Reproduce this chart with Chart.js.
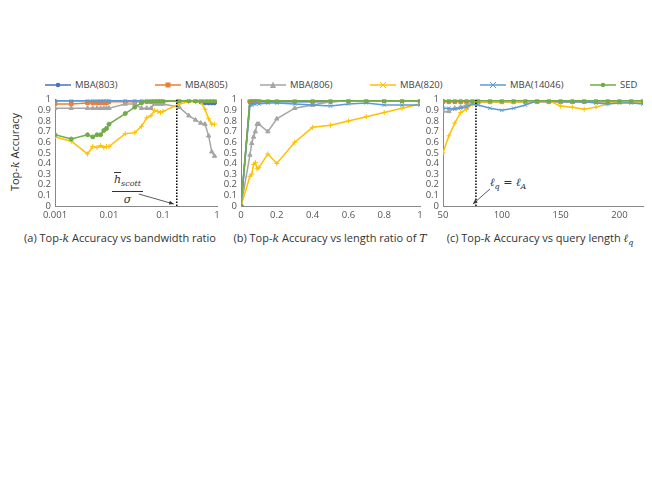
<!DOCTYPE html>
<html><head><meta charset="utf-8">
<script src="https://cdn.jsdelivr.net/npm/chart.js@4"></script>
<style>
body{margin:0;width:652px;height:504px;background:#fff;font-family:"Open Sans",sans-serif;position:relative;overflow:hidden}
canvas{position:absolute}
.t{position:absolute;color:#333;white-space:nowrap}
.cap{position:absolute;top:230px;font-size:11px;color:#333;transform:translateX(-50%);white-space:nowrap}
.leg{position:absolute;top:78px;font-size:9.5px;color:#444;display:flex;align-items:center}
i.m{font-family:"DejaVu Serif",serif;font-style:italic}
</style></head><body>
<script>
// ---- data ----
const xA=[0.001,0.002,0.004,0.005,0.006,0.007,0.008,0.009,0.01,0.02,0.03,0.04,0.05,0.06,0.07,0.08,0.09,0.1,0.2,0.3,0.4,0.5,0.6,0.7,0.8,0.9];
const a803=[0.99,0.99,0.99,0.99,0.99,0.99,0.99,0.99,0.99,0.99,0.99,0.99,0.99,0.99,0.99,0.99,0.99,0.99,0.99,0.99,0.99,0.98,0.97,0.97,0.97,0.97];
const a805=[0.96,0.96,0.97,0.97,0.97,0.97,0.97,0.97,0.98,0.98,0.98,0.98,0.98,0.98,0.98,0.98,0.98,0.98,0.99,0.99,0.99,0.99,0.99,0.99,0.99,0.99];
const a806=[0.92,0.92,0.92,0.92,0.92,0.92,0.92,0.92,0.92,0.96,0.96,0.92,0.92,0.92,0.96,0.96,0.96,0.96,0.93,0.85,0.81,0.78,0.77,0.66,0.51,0.47];
const a820=[0.65,0.61,0.49,0.56,0.55,0.57,0.55,0.56,0.56,0.68,0.69,0.75,0.83,0.85,0.90,0.89,0.88,0.89,0.96,0.98,0.98,0.98,0.91,0.82,0.77,0.77];
const a14046=[0.99,0.99,0.99,0.99,0.99,0.99,0.99,0.99,0.99,0.99,0.99,0.99,0.99,0.99,0.99,0.99,0.99,0.99,0.99,0.99,0.99,0.99,0.99,0.99,0.99,0.99];
const aSED=[0.67,0.63,0.67,0.65,0.67,0.67,0.71,0.73,0.77,0.87,0.93,0.97,0.99,0.99,0.99,0.99,0.99,0.99,0.99,0.99,0.99,0.99,0.99,0.99,0.99,0.99];
const xB=[0,0.05,0.06,0.07,0.08,0.09,0.1,0.15,0.2,0.3,0.4,0.5,0.6,0.7,0.8,0.9,1];
const b803=[0,0.98,0.98,0.98,0.98,0.98,0.98,0.98,0.98,0.98,0.98,0.98,0.99,0.99,0.99,0.99,0.99];
const b805=[0,0.99,0.99,0.99,0.99,0.99,0.99,0.99,0.99,0.99,0.99,0.99,0.99,0.99,0.99,0.99,0.99];
const b806=[0,0.48,0.59,0.65,0.70,0.77,0.77,0.70,0.82,0.92,0.95,0.98,0.99,0.99,0.99,0.99,0.99];
const b820=[0,0.28,0.30,0.39,0.41,0.35,0.36,0.49,0.40,0.60,0.74,0.76,0.80,0.84,0.88,0.92,0.96];
const b14046=[0,0.95,0.95,0.96,0.96,0.97,0.96,0.97,0.97,0.96,0.95,0.94,0.96,0.97,0.95,0.95,0.95];
const bSED=[0,1,1,1,1,1,1,0.99,0.99,0.99,0.99,0.99,0.99,0.99,0.99,0.99,0.99];
const xC=[50,55,60,65,70,75,80,90,100,110,120,130,140,150,160,170,180,190,200,210,220];
const c803=[0.99,0.99,0.99,0.99,0.99,0.99,0.99,0.99,0.99,0.99,0.99,0.99,0.99,0.99,0.99,0.99,0.99,0.99,0.99,0.99,0.99];
const c805=[0.98,0.98,0.98,0.98,0.98,0.98,0.98,0.98,0.98,0.98,0.98,0.98,0.98,0.98,0.98,0.98,0.98,0.98,0.98,0.98,0.98];
const c806=[0.89,0.89,0.92,0.93,0.95,0.97,0.98,0.98,0.98,0.98,0.98,0.98,0.98,0.98,0.98,0.98,0.98,0.98,0.98,0.98,0.98];
const c820=[0.50,0.66,0.78,0.88,0.91,0.96,0.98,0.98,0.98,0.98,0.98,0.99,0.99,0.94,0.93,0.91,0.93,0.96,0.98,0.98,0.98];
const c14046=[0.92,0.92,0.91,0.92,0.93,0.96,0.95,0.92,0.90,0.92,0.95,0.99,0.99,0.98,0.98,0.98,0.97,0.96,0.97,0.97,0.96];
const cSED=[0.99,0.99,0.99,0.99,0.99,0.99,0.99,0.99,0.99,0.99,0.99,0.99,0.99,0.99,0.99,0.99,0.99,0.99,0.99,0.99,0.99];
const names=["MBA(803)","MBA(805)","MBA(806)","MBA(820)","MBA(14046)","SED"];
const colors=["#4472C4","#ED7D31","#A5A5A5","#FFC000","#5B9BD5","#70AD47"];
const markers=["circle","rect","triangle","cross","crossRot","circle"];
const yTicks=[0,0.1,0.2,0.3,0.4,0.5,0.6,0.7,0.8,0.9,1];
const logTicks=[0.001,0.01,0.1,1];
const vlineA=0.18, vlineC=78;
</script>
<div class="t" style="top:152px;font-size:11px;transform:translate(-50%,-50%) rotate(-90deg);left:14px">Top-<i class="m">k</i> Accuracy</div>
<div class="cap" style="left:120px">(a) Top-<i class="m">k</i> Accuracy vs bandwidth ratio</div>
<div class="cap" style="left:330px">(b) Top-<i class="m">k</i> Accuracy vs length ratio of <i class="m">T</i></div>
<div class="cap" style="left:540px">(c) Top-<i class="m">k</i> Accuracy vs query length <i class="m">ℓ<sub style="font-size:8px">q</sub></i></div>
<div class="t" style="left:112px;top:172px;font-size:11px;text-align:center;font-family:'DejaVu Serif',serif;font-style:italic;line-height:15px">
<div style="border-bottom:1px solid #333;padding:0 2px"><span style="text-decoration:overline">h</span><sub style="font-size:8px">scott</sub></div><div>σ</div></div>
<div class="t" style="left:490px;top:176px;font-size:11px;font-family:'DejaVu Serif',serif;font-style:italic">ℓ<sub style="font-size:8px">q</sub> <span style="font-style:normal">=</span> ℓ<sub style="font-size:8px">A</sub></div>
<script>
const legX=[45,155,260,370,480,590];
names.forEach((n,i)=>{
  const d=document.createElement('div');d.className='leg';d.style.left=legX[i]+'px';
  const c=document.createElement('canvas');c.width=26;c.height=10;c.style.position='static';c.style.marginRight='4px';
  const g=c.getContext('2d');g.strokeStyle=colors[i];g.fillStyle=colors[i];g.lineWidth=1.5;
  g.beginPath();g.moveTo(0,5);g.lineTo(26,5);g.stroke();
  g.beginPath();
  if(markers[i]==='rect'){g.fillRect(10.5,2.5,5,5);}
  else if(markers[i]==='triangle'){g.moveTo(13,1.5);g.lineTo(16,8);g.lineTo(10,8);g.fill();}
  else if(markers[i]==='cross'||markers[i]==='crossRot'){g.lineWidth=1;g.moveTo(10,2);g.lineTo(16,8);g.moveTo(16,2);g.lineTo(10,8);g.stroke();}
  else {g.arc(13,5,2.3,0,7);g.fill();}
  d.appendChild(c);d.appendChild(document.createTextNode(n));document.body.appendChild(d);
});
const tf={size:9.5,family:'Open Sans'};
function mk(id,left,width,xs,sets,xOpt,vline,arrow){
  const cv=document.createElement('canvas');cv.id=id;cv.style.left=left+'px';cv.style.top='90px';
  cv.style.width=width+'px';cv.style.height='135px';document.body.appendChild(cv);
  const plug={id:'vl'+id,afterDatasetsDraw(ch){
    if(vline==null)return;const g=ch.ctx,x=ch.scales.x.getPixelForValue(vline),y0=ch.scales.y.getPixelForValue(0),y1=ch.scales.y.getPixelForValue(1);
    g.save();g.strokeStyle='#000';g.lineWidth=1.5;g.setLineDash([1.5,1.5]);g.beginPath();g.moveTo(x,y0);g.lineTo(x,y1);g.stroke();
    g.setLineDash([]);g.lineWidth=0.8;g.strokeStyle='#333';g.fillStyle='#333';
    const ax=x+arrow[0],ay=y0+arrow[1],bx=x-3,by=y0-2;
    g.beginPath();g.moveTo(ax,ay);g.lineTo(bx,by);g.stroke();
    const an=Math.atan2(by-ay,bx-ax);g.beginPath();g.moveTo(bx,by);g.lineTo(bx-5*Math.cos(an-0.4),by-5*Math.sin(an-0.4));g.lineTo(bx-5*Math.cos(an+0.4),by-5*Math.sin(an+0.4));g.fill();g.restore();}};
  new Chart(cv,{type:'line',data:{datasets:sets.map((s,i)=>({label:names[i],data:xs.map((x,j)=>({x,y:s[j]})),borderColor:colors[i],backgroundColor:colors[i],
    order:6-i,borderWidth:1.5,pointStyle:markers[i],pointRadius:markers[i]==='circle'?2:2.5,pointBorderWidth:1,tension:0}))},
  options:{animation:false,responsive:false,devicePixelRatio:1,layout:{padding:{top:7,right:8,left:0,bottom:0}},
   plugins:{legend:{display:false},tooltip:{enabled:false}},
   scales:{x:Object.assign({grid:{display:false,drawTicks:false},border:{color:'#888'},afterFit(s){s.height=19;}},xOpt),
    y:{min:0,max:1,grid:{display:false,drawTicks:false},border:{color:'#888'},afterBuildTicks(s){s.ticks=yTicks.map(v=>({value:v}));},
      ticks:{autoSkip:false,color:'#555',font:tf,padding:4,callback:v=>String(Math.round(v*10)/10)},afterFit(s){s.width=width===205?35:30;}}}},
  plugins:[plug]});
}
mk('ca',20,205,xA,[a803,a805,a806,a820,a14046,aSED],{type:'logarithmic',min:0.001,max:1,afterBuildTicks(s){s.ticks=logTicks.map(v=>({value:v}));},
  ticks:{autoSkip:false,color:'#555',font:tf,padding:4,maxRotation:0,callback:v=>String(v)}},vlineA,[-38,-12]);
mk('cb',211,217,xB,[b803,b805,b806,b820,b14046,bSED],{type:'linear',min:0,max:1,ticks:{autoSkip:false,stepSize:0.2,color:'#555',font:tf,padding:4,maxRotation:0,callback:v=>String(Math.round(v*10)/10)}},null,null);
mk('cc',413,238,xC,[c803,c805,c806,c820,c14046,cSED],{type:'linear',min:50,max:220,afterBuildTicks(s){s.ticks=[50,100,150,200].map(v=>({value:v}));},ticks:{autoSkip:false,color:'#555',font:tf,padding:4,maxRotation:0}},vlineC,[14,-17]);
</script>
</body></html>
